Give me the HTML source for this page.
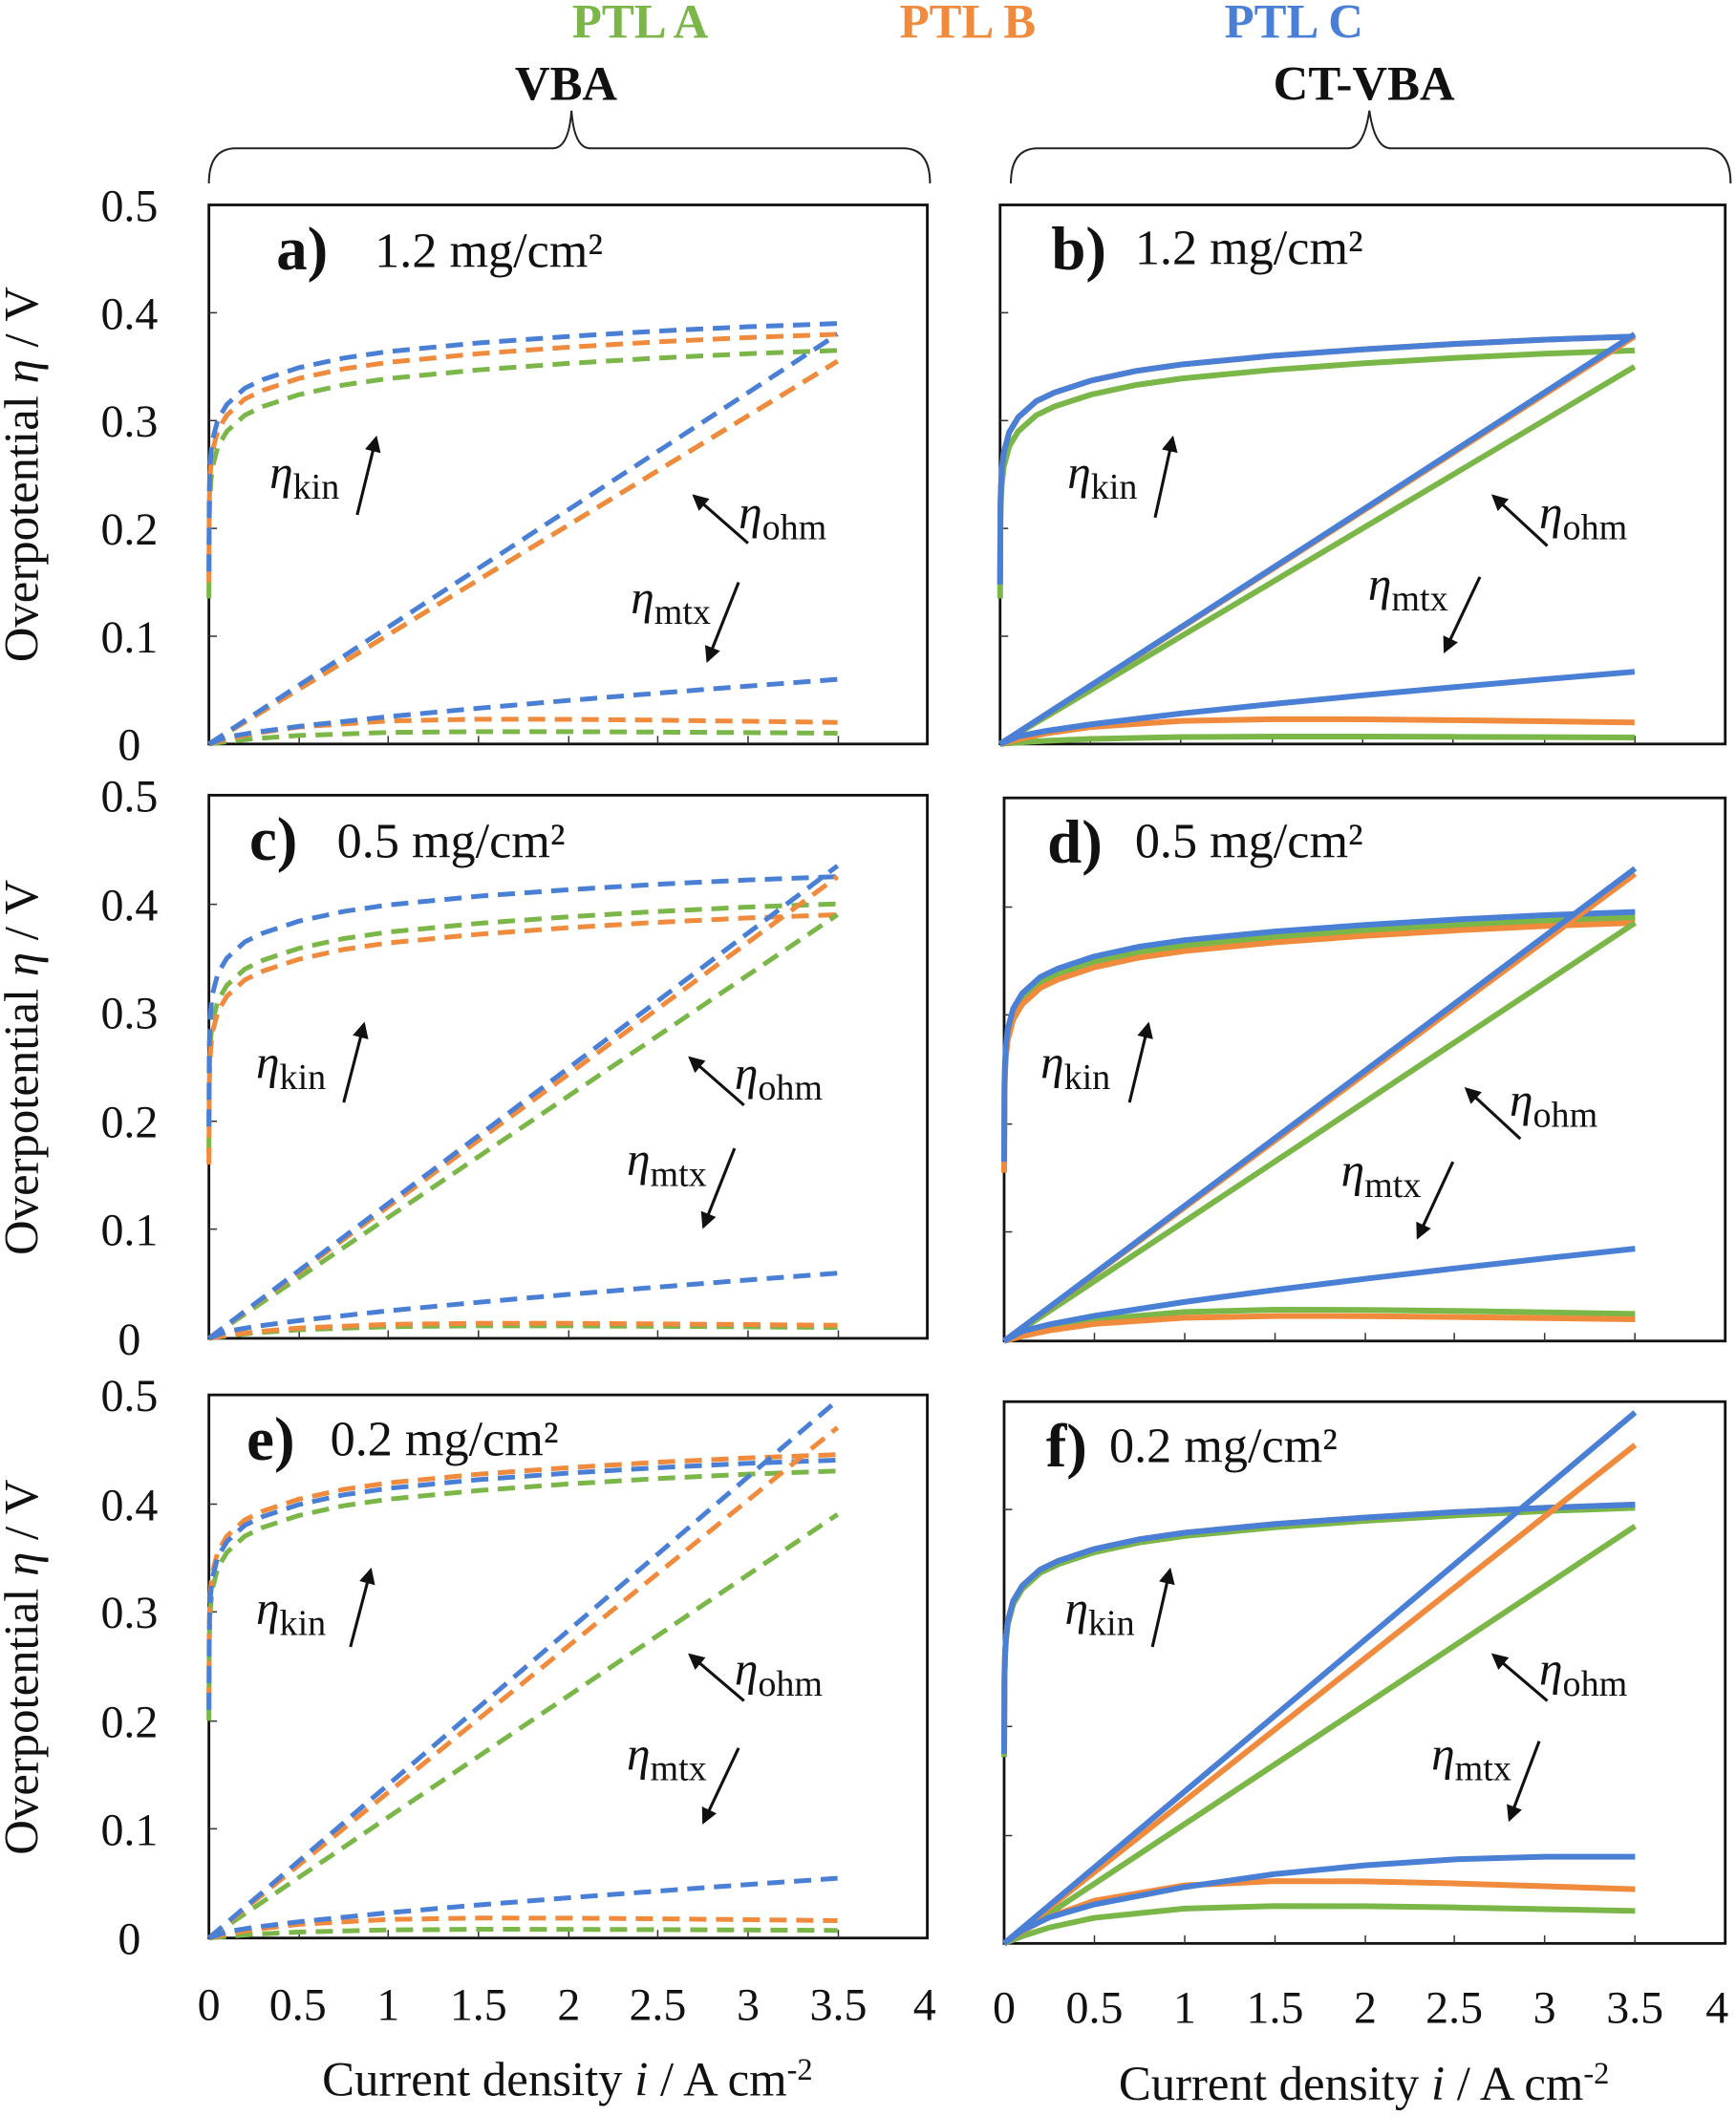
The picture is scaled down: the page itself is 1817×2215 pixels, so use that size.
<!DOCTYPE html>
<html><head><meta charset="utf-8"><style>
html,body{margin:0;padding:0;background:#fff}
svg{display:block}
text{font-family:"Liberation Serif",serif;fill:#111}
svg path{vector-effect:non-scaling-stroke;fill:none;stroke-linecap:butt}
.d{stroke-dasharray:18 10;stroke-width:5}
.s{stroke-width:6}
.ar{stroke:#111;stroke-width:2.2}
</style></head><body>
<svg width="1817" height="2215" viewBox="0 0 1288 1570" xmlns="http://www.w3.org/2000/svg" xmlns:xlink="http://www.w3.org/1999/xlink">
<defs>
<path id="k" d="M0,-0.23 L0.002,-0.157 L0.005,-0.138 L0.01,-0.123 L0.02,-0.108 L0.05,-0.089 L0.1,-0.075 L0.2,-0.06 L0.3,-0.052 L0.5,-0.041 L0.75,-0.032 L1,-0.026 L1.5,-0.018 L2,-0.012 L2.5,-0.007 L3,-0.003 L3.5,0"/>
<path id="m1" d="M0,0 L0.1,0.106 L0.25,0.179 L0.5,0.272 L1,0.423 L1.5,0.553 L2,0.673 L2.5,0.786 L3,0.895 L3.5,1"/>
<path id="m2" d="M0,0 L0.1,0.222 L0.25,0.488 L0.5,0.787 L1,1.07 L1.5,1.15 L2,1.145 L2.5,1.107 L3,1.055 L3.5,1"/>
<path id="m3" d="M0,0 L0.1,0.15 L0.25,0.3 L0.5,0.45 L1,0.65 L1.5,0.8 L2,0.9 L2.5,0.97 L3,1 L3.5,1"/>
<marker id="ah" markerWidth="12" markerHeight="12" refX="10" refY="6" orient="auto" markerUnits="userSpaceOnUse"><polygon points="0,0 12,6 0,12" fill="#111"/></marker>
</defs>
<text x="475" y="28" font-size="36" font-weight="bold" style="fill:#7ab648" text-anchor="middle">PTL A</text>
<text x="718" y="28" font-size="36" font-weight="bold" style="fill:#f08a3c" text-anchor="middle">PTL B</text>
<text x="960" y="28" font-size="36" font-weight="bold" style="fill:#4a7fd6" text-anchor="middle">PTL C</text>
<text x="420" y="74" font-size="36" font-weight="bold" text-anchor="middle">VBA</text>
<text x="1012" y="74" font-size="36" font-weight="bold" text-anchor="middle">CT-VBA</text>
<g fill="none" stroke="#222" stroke-width="2">
<path d="M155,136 Q155,110 175,110 L410,110 Q422,110 424,82 Q426,110 438,110 L670,110 Q690,110 690,136"/>
<path d="M750,136 Q750,110 770,110 L1000,110 Q1012,110 1016,82 Q1020,110 1032,110 L1264,110 Q1284,110 1284,136"/>
</g>

<g fill="none" stroke="#111" stroke-width="2">
<rect x="155" y="152" width="533" height="400"/>
<rect x="742" y="152" width="538" height="400"/>
<rect x="155" y="590" width="533" height="403"/>
<rect x="745" y="592" width="535" height="403"/>
<rect x="155" y="1035" width="533" height="403"/>
<rect x="745" y="1040" width="535" height="402"/>
</g>
<g stroke="#333" stroke-width="1.5">
<path d="M155,472h6M155,392h6M155,312h6M155,232h6"/>
<path d="M742,472h6M742,392h6M742,312h6M742,232h6"/>
<path d="M155,912h6M155,832h6M155,751h6M155,671h6"/>
<path d="M745,914h6M745,834h6M745,753h6M745,673h6"/>
<path d="M155,1357h6M155,1277h6M155,1196h6M155,1116h6"/>
<path d="M745,1362h6M745,1281h6M745,1201h6M745,1120h6"/>
<path d="M222,552v-6M288,552v-6M355,552v-6M422,552v-6M488,552v-6M555,552v-6M622,552v-6"/>
<path d="M809,552v-6M876,552v-6M944,552v-6M1011,552v-6M1078,552v-6M1146,552v-6M1213,552v-6"/>
<path d="M222,993v-6M288,993v-6M355,993v-6M422,993v-6M488,993v-6M555,993v-6M622,993v-6"/>
<path d="M812,995v-6M879,995v-6M946,995v-6M1013,995v-6M1079,995v-6M1146,995v-6M1213,995v-6"/>
<path d="M222,1438v-6M288,1438v-6M355,1438v-6M422,1438v-6M488,1438v-6M555,1438v-6M622,1438v-6"/>
<path d="M812,1442v-6M879,1442v-6M946,1442v-6M1013,1442v-6M1079,1442v-6M1146,1442v-6M1213,1442v-6"/>
</g>

<g transform="translate(155,552) scale(133.25,-800)" class="d">
<use xlink:href="#k" transform="translate(0,0.365)" stroke="#7ab648"/>
<use xlink:href="#k" transform="translate(0,0.38)" stroke="#f08a3c"/>
<use xlink:href="#k" transform="translate(0,0.39)" stroke="#4a7fd6"/>
<path d="M0,0L3.5,0.355" stroke="#7ab648"/>
<path d="M0,0L3.5,0.355" stroke="#f08a3c"/>
<path d="M0,0L3.5,0.38" stroke="#4a7fd6"/>
<use xlink:href="#m2" transform="scale(1,0.01)" stroke="#7ab648"/>
<use xlink:href="#m2" transform="scale(1,0.02)" stroke="#f08a3c"/>
<use xlink:href="#m1" transform="scale(1,0.06)" stroke="#4a7fd6"/>
</g>
<g transform="translate(742,552) scale(134.5,-800)" class="s">
<use xlink:href="#k" transform="translate(0,0.365)" stroke="#7ab648"/>
<use xlink:href="#k" transform="translate(0,0.378)" stroke="#f08a3c"/>
<use xlink:href="#k" transform="translate(0,0.378)" stroke="#4a7fd6"/>
<path d="M0,0L3.5,0.35" stroke="#7ab648"/>
<path d="M0,0L3.5,0.378" stroke="#f08a3c"/>
<path d="M0,0L3.5,0.38" stroke="#4a7fd6"/>
<use xlink:href="#m2" transform="scale(1,0.006)" stroke="#7ab648"/>
<use xlink:href="#m2" transform="scale(1,0.02)" stroke="#f08a3c"/>
<use xlink:href="#m1" transform="scale(1,0.067)" stroke="#4a7fd6"/>
</g>
<g transform="translate(155,993) scale(133.25,-806)" class="d">
<use xlink:href="#k" transform="translate(0,0.40)" stroke="#7ab648"/>
<use xlink:href="#k" transform="translate(0,0.39)" stroke="#f08a3c"/>
<use xlink:href="#k" transform="translate(0,0.425)" stroke="#4a7fd6"/>
<path d="M0,0L3.5,0.39" stroke="#7ab648"/>
<path d="M0,0L3.5,0.425" stroke="#f08a3c"/>
<path d="M0,0L3.5,0.435" stroke="#4a7fd6"/>
<use xlink:href="#m2" transform="scale(1,0.01)" stroke="#7ab648"/>
<use xlink:href="#m2" transform="scale(1,0.012)" stroke="#f08a3c"/>
<use xlink:href="#m1" transform="scale(1,0.06)" stroke="#4a7fd6"/>
</g>
<g transform="translate(745,995) scale(133.75,-806)" class="s">
<use xlink:href="#k" transform="translate(0,0.39)" stroke="#7ab648"/>
<use xlink:href="#k" transform="translate(0,0.385)" stroke="#f08a3c"/>
<use xlink:href="#k" transform="translate(0,0.395)" stroke="#4a7fd6"/>
<path d="M0,0L3.5,0.385" stroke="#7ab648"/>
<path d="M0,0L3.5,0.43" stroke="#f08a3c"/>
<path d="M0,0L3.5,0.435" stroke="#4a7fd6"/>
<use xlink:href="#m2" transform="scale(1,0.025)" stroke="#7ab648"/>
<use xlink:href="#m2" transform="scale(1,0.02)" stroke="#f08a3c"/>
<use xlink:href="#m1" transform="scale(1,0.085)" stroke="#4a7fd6"/>
</g>
<g transform="translate(155,1438) scale(133.25,-806)" class="d">
<use xlink:href="#k" transform="translate(0,0.43)" stroke="#7ab648"/>
<use xlink:href="#k" transform="translate(0,0.445)" stroke="#f08a3c"/>
<use xlink:href="#k" transform="translate(0,0.44)" stroke="#4a7fd6"/>
<path d="M0,0L3.5,0.39" stroke="#7ab648"/>
<path d="M0,0L3.5,0.47" stroke="#f08a3c"/>
<path d="M0,0L3.5,0.495" stroke="#4a7fd6"/>
<use xlink:href="#m2" transform="scale(1,0.007)" stroke="#7ab648"/>
<use xlink:href="#m2" transform="scale(1,0.016)" stroke="#f08a3c"/>
<use xlink:href="#m1" transform="scale(1,0.055)" stroke="#4a7fd6"/>
</g>
<g transform="translate(745,1442) scale(133.75,-804)" class="s">
<use xlink:href="#k" transform="translate(0,0.402)" stroke="#7ab648"/>
<use xlink:href="#k" transform="translate(0,0.405)" stroke="#f08a3c"/>
<use xlink:href="#k" transform="translate(0,0.405)" stroke="#4a7fd6"/>
<path d="M0,0L3.5,0.385" stroke="#7ab648"/>
<path d="M0,0L3.5,0.46" stroke="#f08a3c"/>
<path d="M0,0L3.5,0.49" stroke="#4a7fd6"/>
<use xlink:href="#m2" transform="scale(1,0.03)" stroke="#7ab648"/>
<use xlink:href="#m2" transform="scale(1,0.05)" stroke="#f08a3c"/>
<use xlink:href="#m3" transform="scale(1,0.08)" stroke="#4a7fd6"/>
</g>

<g class="ar" marker-end="url(#ah)">
<line x1="265" y1="382" x2="279" y2="325"/><line x1="555" y1="403" x2="515" y2="368"/><line x1="548" y1="432" x2="525" y2="490"/>
<line x1="857" y1="384" x2="870" y2="325"/><line x1="1148" y1="405" x2="1108" y2="368"/><line x1="1098" y1="428" x2="1072" y2="483"/>
<line x1="255" y1="818" x2="270" y2="760"/><line x1="552" y1="820" x2="512" y2="785"/><line x1="545" y1="852" x2="522" y2="910"/>
<line x1="838" y1="818" x2="852" y2="760"/><line x1="1128" y1="845" x2="1088" y2="808"/><line x1="1078" y1="862" x2="1052" y2="918"/>
<line x1="260" y1="1222" x2="275" y2="1165"/><line x1="552" y1="1262" x2="512" y2="1228"/><line x1="548" y1="1297" x2="522" y2="1352"/>
<line x1="855" y1="1222" x2="868" y2="1165"/><line x1="1148" y1="1262" x2="1108" y2="1228"/><line x1="1142" y1="1292" x2="1120" y2="1350"/>
</g>

<g font-size="35">
<text x="200" y="362" font-style="italic">η<tspan font-style="normal" font-size="27" dy="8">kin</tspan></text>
<text x="548" y="392" font-style="italic">η<tspan font-style="normal" font-size="27" dy="8">ohm</tspan></text>
<text x="468" y="455" font-style="italic">η<tspan font-style="normal" font-size="27" dy="8">mtx</tspan></text>
<text x="792" y="362" font-style="italic">η<tspan font-style="normal" font-size="27" dy="8">kin</tspan></text>
<text x="1142" y="392" font-style="italic">η<tspan font-style="normal" font-size="27" dy="8">ohm</tspan></text>
<text x="1015" y="445" font-style="italic">η<tspan font-style="normal" font-size="27" dy="8">mtx</tspan></text>
<text x="190" y="800" font-style="italic">η<tspan font-style="normal" font-size="27" dy="8">kin</tspan></text>
<text x="545" y="808" font-style="italic">η<tspan font-style="normal" font-size="27" dy="8">ohm</tspan></text>
<text x="465" y="872" font-style="italic">η<tspan font-style="normal" font-size="27" dy="8">mtx</tspan></text>
<text x="772" y="800" font-style="italic">η<tspan font-style="normal" font-size="27" dy="8">kin</tspan></text>
<text x="1120" y="828" font-style="italic">η<tspan font-style="normal" font-size="27" dy="8">ohm</tspan></text>
<text x="995" y="880" font-style="italic">η<tspan font-style="normal" font-size="27" dy="8">mtx</tspan></text>
<text x="190" y="1205" font-style="italic">η<tspan font-style="normal" font-size="27" dy="8">kin</tspan></text>
<text x="545" y="1250" font-style="italic">η<tspan font-style="normal" font-size="27" dy="8">ohm</tspan></text>
<text x="465" y="1313" font-style="italic">η<tspan font-style="normal" font-size="27" dy="8">mtx</tspan></text>
<text x="790" y="1205" font-style="italic">η<tspan font-style="normal" font-size="27" dy="8">kin</tspan></text>
<text x="1142" y="1250" font-style="italic">η<tspan font-style="normal" font-size="27" dy="8">ohm</tspan></text>
<text x="1062" y="1313" font-style="italic">η<tspan font-style="normal" font-size="27" dy="8">mtx</tspan></text>
</g>

<g>
<text x="205" y="200" font-size="46" font-weight="bold">a)</text><text x="278" y="198" font-size="37">1.2 mg/cm²</text>
<text x="780" y="200" font-size="46" font-weight="bold">b)</text><text x="842" y="196" font-size="37">1.2 mg/cm²</text>
<text x="185" y="638" font-size="46" font-weight="bold">c)</text><text x="250" y="636" font-size="37">0.5 mg/cm²</text>
<text x="777" y="640" font-size="46" font-weight="bold">d)</text><text x="842" y="636" font-size="37">0.5 mg/cm²</text>
<text x="183" y="1083" font-size="46" font-weight="bold">e)</text><text x="245" y="1080" font-size="37">0.2 mg/cm²</text>
<text x="776" y="1088" font-size="46" font-weight="bold">f)</text><text x="823" y="1085" font-size="37">0.2 mg/cm²</text>
</g>

<g font-size="34" text-anchor="middle">
<text x="96" y="564">0</text><text x="96" y="484">0.1</text><text x="96" y="404">0.2</text><text x="96" y="324">0.3</text><text x="96" y="244">0.4</text><text x="96" y="164">0.5</text>
<text x="96" y="1005">0</text><text x="96" y="924">0.1</text><text x="96" y="844">0.2</text><text x="96" y="763">0.3</text><text x="96" y="683">0.4</text><text x="96" y="602">0.5</text>
<text x="96" y="1450">0</text><text x="96" y="1369">0.1</text><text x="96" y="1289">0.2</text><text x="96" y="1208">0.3</text><text x="96" y="1128">0.4</text><text x="96" y="1047">0.5</text>
</g>
<g font-size="36" text-anchor="middle">
<text transform="translate(28,352) rotate(-90)">Overpotential <tspan font-style="italic">η</tspan> / V</text>
<text transform="translate(28,792) rotate(-90)">Overpotential <tspan font-style="italic">η</tspan> / V</text>
<text transform="translate(28,1237) rotate(-90)">Overpotential <tspan font-style="italic">η</tspan> / V</text>
</g>

<g font-size="34" text-anchor="middle">
<text x="155" y="1499">0</text><text x="221" y="1499">0.5</text><text x="288" y="1499">1</text><text x="355" y="1499">1.5</text><text x="422" y="1499">2</text><text x="488" y="1499">2.5</text><text x="555" y="1499">3</text><text x="622" y="1499">3.5</text><text x="686" y="1499">4</text>
<text x="745" y="1501">0</text><text x="812" y="1501">0.5</text><text x="879" y="1501">1</text><text x="946" y="1501">1.5</text><text x="1013" y="1501">2</text><text x="1079" y="1501">2.5</text><text x="1146" y="1501">3</text><text x="1213" y="1501">3.5</text><text x="1274" y="1501">4</text>
</g>
<g font-size="36" text-anchor="middle">
<text x="421" y="1555">Current density <tspan font-style="italic">i</tspan> / A cm<tspan font-size="23" dy="-12">-2</tspan></text>
<text x="1012" y="1558">Current density <tspan font-style="italic">i</tspan> / A cm<tspan font-size="23" dy="-12">-2</tspan></text>
</g>
</svg>
</body></html>
